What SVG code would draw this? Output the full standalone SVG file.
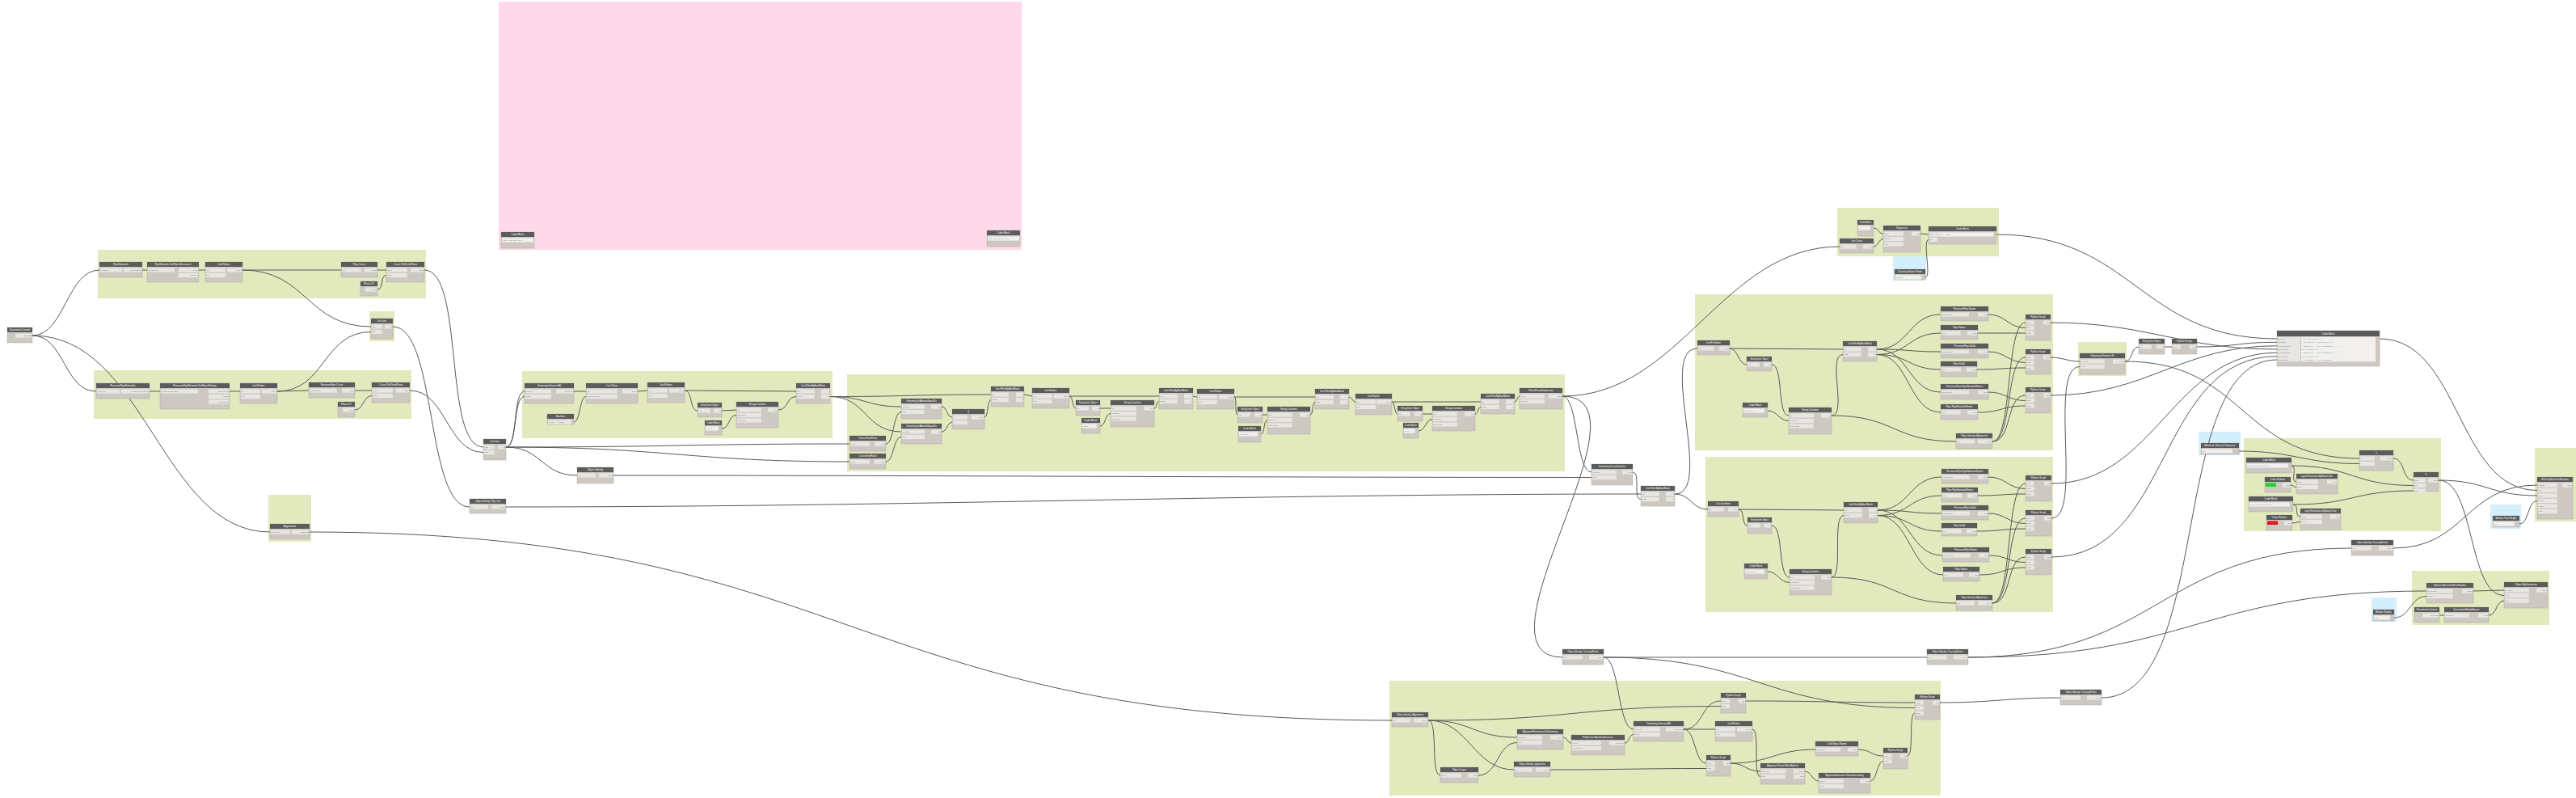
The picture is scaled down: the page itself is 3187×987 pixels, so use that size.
<svg xmlns="http://www.w3.org/2000/svg" width="3187" height="987" viewBox="0 0 3187 987">
<style>
.g{fill:#e1e9bd}.gb{fill:#d3effc}.gp{fill:#ffd9ea}
.nb{fill:#cdc8c1;stroke:#a7a199;stroke-width:.4}
.nh{fill:#5b5b5b}
.pr{fill:#e8e6e2}
.cb{fill:#f1f0ee}
text{font-family:"Liberation Sans",Arial,sans-serif}
.nt{font-size:3.1px;fill:#fff;text-anchor:middle}
.pi{font-size:2.2px;fill:#707070}
.po{font-size:2.2px;fill:#707070;text-anchor:end}
.cd{font-family:"Liberation Mono",monospace;font-size:2.2px;fill:#707070}
.w{fill:none;stroke:#595959;stroke-width:1}
</style>
<rect width="3187" height="987" fill="#ffffff"/>
<g id="groups">
<rect class="gp" x="617" y="2" width="647" height="307"/>
<rect class="g" x="121" y="309" width="406" height="60"/>
<rect class="g" x="116" y="458" width="393" height="60"/>
<rect class="g" x="457" y="385" width="31" height="37"/>
<rect class="g" x="332" y="612" width="53" height="58"/>
<rect class="g" x="646" y="459" width="384" height="83"/>
<rect class="g" x="1048" y="463" width="888" height="120"/>
<rect class="g" x="2097" y="364" width="443" height="193"/>
<rect class="g" x="2110" y="565" width="430" height="192"/>
<rect class="g" x="2273" y="257" width="200" height="60"/>
<rect class="g" x="2571" y="423" width="60" height="42"/>
<rect class="g" x="2776" y="542" width="244" height="115"/>
<rect class="g" x="3136" y="554" width="51" height="91"/>
<rect class="g" x="2984" y="706" width="170" height="67"/>
<rect class="g" x="1719" y="842" width="682" height="142"/>
<rect class="gb" x="2342" y="317" width="41" height="30"/>
<rect class="gb" x="2720" y="534" width="52" height="29"/>
<rect class="gb" x="3081" y="624" width="38" height="30"/>
<rect class="gb" x="2934" y="739" width="31" height="30"/>
</g>
<g id="connectors">
<path class="w" d="M40,415 C80,415 83,334 123,334"/>
<path class="w" d="M40,415 C80,415 79,484 119,484"/>
<path class="w" d="M40,415 C180,415 200,658 334,658"/>
<path class="w" d="M176,334 L182,334"/>
<path class="w" d="M246,334 L254,334"/>
<path class="w" d="M300,334 L422,334"/>
<path class="w" d="M467,334 L478,334"/>
<path class="w" d="M467,358 C475,358 470,340.5 478,340.5"/>
<path class="w" d="M300,334 C380,334 379,404 459,404"/>
<path class="w" d="M343,484 C403,484 399,410.5 459,410.5"/>
<path class="w" d="M525,334 C575,334 548,553 598,553"/>
<path class="w" d="M507,483 C552,483 553,559.5 598,559.5"/>
<path class="w" d="M486,404 C541,404 526,627 581,627"/>
<path class="w" d="M185,484 L198,484"/>
<path class="w" d="M284,484 L297,484"/>
<path class="w" d="M343,484 L382,483"/>
<path class="w" d="M439,483 L460,483"/>
<path class="w" d="M439,507 C450,507 449,489.5 460,489.5"/>
<path class="w" d="M626,553 C641,553 634,484 649,484"/>
<path class="w" d="M626,553 C641,553 634,490.5 649,490.5"/>
<path class="w" d="M626,553 C671,553 669,588 714,588"/>
<path class="w" d="M626,553 C826,553 851,549 1051,549"/>
<path class="w" d="M626,553 C826,553 851,571 1051,571"/>
<path class="w" d="M759,588 C1159,588 1569,590.5 1969,590.5"/>
<path class="w" d="M626,627 C1126,627 1530,611 2030,611"/>
<path class="w" d="M383,658 C1053,658 1052,891 1722,891"/>
<path class="w" d="M710,484 L725,484"/>
<path class="w" d="M710,522 C718,522 717,490.5 725,490.5"/>
<path class="w" d="M789,484 L801,483"/>
<path class="w" d="M847,483 C857,483 853,508 863,508"/>
<path class="w" d="M847,483 L985,484"/>
<path class="w" d="M893,508 L911,507"/>
<path class="w" d="M893,530 C903,530 901,513.5 911,513.5"/>
<path class="w" d="M963,507 C975,507 973,490.5 985,490.5"/>
<path class="w" d="M1027,490.5 C1072,490.5 1070,503 1115,503"/>
<path class="w" d="M1027,490.5 C1072,490.5 1070,534 1115,534"/>
<path class="w" d="M1027,490.5 C1127,490.5 1126,488 1226,488"/>
<path class="w" d="M1096,549 C1106,549 1105,509.5 1115,509.5"/>
<path class="w" d="M1096,571 C1106,571 1105,540.5 1115,540.5"/>
<path class="w" d="M1165,503 C1172,503 1171,516 1178,516"/>
<path class="w" d="M1165,534 C1172,534 1171,522.5 1178,522.5"/>
<path class="w" d="M1218,516 C1223,516 1221,494.5 1226,494.5"/>
<path class="w" d="M1267,488 L1277,490"/>
<path class="w" d="M1323,490 C1328,490 1326,505 1331,505"/>
<path class="w" d="M1323,490 L1434,490"/>
<path class="w" d="M1361,505 L1374,505"/>
<path class="w" d="M1361,527 C1368,527 1367,511.5 1374,511.5"/>
<path class="w" d="M1428,505 C1432,505 1430,496.5 1434,496.5"/>
<path class="w" d="M1476,490 L1481,491"/>
<path class="w" d="M1527,491 C1531,491 1527,513 1531,513"/>
<path class="w" d="M1527,491 L1627,491"/>
<path class="w" d="M1562,513 L1568,513"/>
<path class="w" d="M1560,537 C1565,537 1563,519.5 1568,519.5"/>
<path class="w" d="M1621,513 C1625,513 1623,497.5 1627,497.5"/>
<path class="w" d="M1669,491 C1673,491 1673,497 1677,497"/>
<path class="w" d="M1722,497 C1726,497 1725,512 1729,512"/>
<path class="w" d="M1722,497 L1832,497"/>
<path class="w" d="M1760,512 L1772,512"/>
<path class="w" d="M1755,533 C1763,533 1764,518.5 1772,518.5"/>
<path class="w" d="M1825,512 C1829,512 1828,503.5 1832,503.5"/>
<path class="w" d="M1874,497 C1877,497 1877,490 1880,490"/>
<path class="w" d="M1933,490 C1953,490 1949,584 1969,584"/>
<path class="w" d="M1933,490 C2080,490 2130,305 2276,305"/>
<path class="w" d="M1933,490 C2053,490 1813,813 1933,813"/>
<path class="w" d="M2020,584 C2030,584 2020,617.5 2030,617.5"/>
<path class="w" d="M2072,611 C2122,611 2050,431 2100,431"/>
<path class="w" d="M2072,611 C2092,611 2093,630 2113,630"/>
<path class="w" d="M2140,431 C2150,431 2151,451 2161,451"/>
<path class="w" d="M2140,431 L2280,432"/>
<path class="w" d="M2192,451 C2207,451 2198,514 2213,514"/>
<path class="w" d="M2187,508 C2199,508 2201,520.5 2213,520.5"/>
<path class="w" d="M2266,514 C2286,514 2260,438.5 2280,438.5"/>
<path class="w" d="M2266,514 C2346,514 2340,546 2420,546"/>
<path class="w" d="M2322,432 C2362,432 2361,389 2401,389"/>
<path class="w" d="M2322,438.5 C2362,438.5 2361,412 2401,412"/>
<path class="w" d="M2322,432 C2362,432 2361,435 2401,435"/>
<path class="w" d="M2322,438.5 C2362,438.5 2361,457 2401,457"/>
<path class="w" d="M2322,432 C2362,432 2361,485 2401,485"/>
<path class="w" d="M2322,438.5 C2362,438.5 2361,510 2401,510"/>
<path class="w" d="M2323,631 C2363,631 2362,590 2402,590"/>
<path class="w" d="M2323,637.5 C2363,637.5 2362,613 2402,613"/>
<path class="w" d="M2323,631 C2363,631 2362,635 2402,635"/>
<path class="w" d="M2323,637.5 C2363,637.5 2362,657 2402,657"/>
<path class="w" d="M2323,631 C2363,631 2363,687 2403,687"/>
<path class="w" d="M2323,637.5 C2363,637.5 2364,711 2404,711"/>
<path class="w" d="M2266,714 C2281,714 2266,637.5 2281,637.5"/>
<path class="w" d="M2266,714 C2346,714 2340,746 2420,746"/>
<path class="w" d="M2151,630 C2159,630 2154,650 2162,650"/>
<path class="w" d="M2151,630 L2281,631"/>
<path class="w" d="M2192,650 C2207,650 2199,714 2214,714"/>
<path class="w" d="M2187,707 C2199,707 2202,720.5 2214,720.5"/>
<path class="w" d="M2460,389 C2482,389 2484,405.5 2506,405.5"/>
<path class="w" d="M2447,412 L2506,412"/>
<path class="w" d="M2460,435 C2482,435 2484,448.5 2506,448.5"/>
<path class="w" d="M2446,457 C2476,457 2476,455 2506,455"/>
<path class="w" d="M2460,485 C2482,485 2484,495.5 2506,495.5"/>
<path class="w" d="M2447,510 C2477,510 2476,502 2506,502"/>
<path class="w" d="M2465,546 C2490,546 2481,399 2506,399"/>
<path class="w" d="M2465,546 C2490,546 2481,442 2506,442"/>
<path class="w" d="M2465,546 C2490,546 2481,489 2506,489"/>
<path class="w" d="M2460,590 C2482,590 2484,604.5 2506,604.5"/>
<path class="w" d="M2447,613 C2477,613 2476,611 2506,611"/>
<path class="w" d="M2460,635 C2482,635 2484,647.5 2506,647.5"/>
<path class="w" d="M2446,657 C2476,657 2476,654 2506,654"/>
<path class="w" d="M2461,687 C2483,687 2484,695.5 2506,695.5"/>
<path class="w" d="M2449,711 C2478,711 2477,702 2506,702"/>
<path class="w" d="M2465,746 C2490,746 2481,598 2506,598"/>
<path class="w" d="M2465,746 C2490,746 2481,641 2506,641"/>
<path class="w" d="M2465,746 C2490,746 2481,689 2506,689"/>
<path class="w" d="M2537,399 C2657,399 2697,432 2817,432"/>
<path class="w" d="M2537,442 C2552,442 2558,447 2573,447"/>
<path class="w" d="M2537,489 C2657,489 2697,427.7 2817,427.7"/>
<path class="w" d="M2538,598 C2668,598 2687,436.3 2817,436.3"/>
<path class="w" d="M2538,641 C2578,641 2533,453.5 2573,453.5"/>
<path class="w" d="M2538,689 C2688,689 2667,440.7 2817,440.7"/>
<path class="w" d="M2600,863 C2740,863 2680,445 2817,445"/>
<path class="w" d="M2629,447 C2639,447 2636,429 2646,429"/>
<path class="w" d="M2678,429 L2687,429"/>
<path class="w" d="M2718,429 C2768,429 2767,423.3 2817,423.3"/>
<path class="w" d="M2629,447 C2779,447 2769,567 2919,567"/>
<path class="w" d="M2770,558 C2840,558 2849,573.5 2919,573.5"/>
<path class="w" d="M2470,290 C2640,290 2647,419 2817,419"/>
<path class="w" d="M2944,419 C3044,419 3039,606.5 3139,606.5"/>
<path class="w" d="M3017,594 C3077,594 3079,613 3139,613"/>
<path class="w" d="M3017,594 C3062,594 3053,736.5 3098,736.5"/>
<path class="w" d="M2961,567 C2976,567 2971,594 2986,594"/>
<path class="w" d="M2835,576 C2843,576 2833,596 2841,596"/>
<path class="w" d="M2835,576 C2910,576 2911,600.5 2986,600.5"/>
<path class="w" d="M2834,600 C2838,600 2837,602.5 2841,602.5"/>
<path class="w" d="M2837,624 C2912,624 2911,607 2986,607"/>
<path class="w" d="M2837,624 C2845,624 2838,639 2846,639"/>
<path class="w" d="M2836,647 C2841,647 2841,645.5 2846,645.5"/>
<path class="w" d="M3117,648 C3129,648 3127,619.5 3139,619.5"/>
<path class="w" d="M2961,678 C3051,678 3049,600 3139,600"/>
<path class="w" d="M2435,813 C2675,813 2669,678 2909,678"/>
<path class="w" d="M2435,813 C2715,813 2722,731 3002,731"/>
<path class="w" d="M2962,764 C2982,764 2982,737.5 3002,737.5"/>
<path class="w" d="M3060,731 L3098,730"/>
<path class="w" d="M3018,761 L3024,761"/>
<path class="w" d="M3079,761 C3089,761 3088,743 3098,743"/>
<path class="w" d="M1984,813 L2384,813"/>
<path class="w" d="M1984,813 C2174,813 2179,875.5 2369,875.5"/>
<path class="w" d="M1984,813 C2004,813 2001,902 2021,902"/>
<path class="w" d="M1767,891 C1822,891 1822,912 1877,912"/>
<path class="w" d="M1767,891 C1780,891 1769,959 1782,959"/>
<path class="w" d="M1767,891 C1817,891 1823,952 1873,952"/>
<path class="w" d="M1767,891 C1947,891 1949,873.5 2129,873.5"/>
<path class="w" d="M1829,959 C1854,959 1852,918.5 1877,918.5"/>
<path class="w" d="M1934,912 C1939,912 1939,919 1944,919"/>
<path class="w" d="M2010,919 C2016,919 2015,908.5 2021,908.5"/>
<path class="w" d="M2083,902 L2122,902"/>
<path class="w" d="M2083,902 C2108,902 2104,867 2129,867"/>
<path class="w" d="M2083,902 C2098,902 2096,944 2111,944"/>
<path class="w" d="M1918,952 C2008,952 2021,950.5 2111,950.5"/>
<path class="w" d="M2168,902 C2178,902 2168,960.5 2178,960.5"/>
<path class="w" d="M2141,944 C2191,944 2196,927 2246,927"/>
<path class="w" d="M2141,944 C2159,944 2160,954 2178,954"/>
<path class="w" d="M2233,954 C2241,954 2242,966 2250,966"/>
<path class="w" d="M2299,927 C2314,927 2315,935 2330,935"/>
<path class="w" d="M2314,966 C2322,966 2322,941.5 2330,941.5"/>
<path class="w" d="M2360,935 C2368,935 2361,882 2369,882"/>
<path class="w" d="M2160,867 C2260,867 2269,869 2369,869"/>
<path class="w" d="M2400,869 C2470,869 2479,863 2549,863"/>
<path class="w" d="M2318,282 C2324,282 2324,289 2330,289"/>
<path class="w" d="M2318,305 C2324,305 2324,295.5 2330,295.5"/>
<path class="w" d="M2376,289 L2386,290"/>
<path class="w" d="M2382,343 C2390,343 2378,296.5 2386,296.5"/>
</g>
<g id="n124"><rect class="nb" x="620" y="287" width="41" height="20"/><rect class="nh" x="620" y="287" width="41" height="6"/><text class="nt" x="640.5" y="291.2">Code Block</text><rect class="cb" x="621" y="294.4" width="39" height="5.2"/><text class="cd" x="621.6" y="297.9">Your code goes here</text></g>
<g id="n125"><rect class="nb" x="1221" y="285" width="41" height="20"/><rect class="nh" x="1221" y="285" width="41" height="6"/><text class="nt" x="1241.5" y="289.2">Code Block</text><rect class="cb" x="1222" y="292.4" width="39" height="5.2"/><text class="cd" x="1222.6" y="295.9">Your code goes here</text></g>
<g id="n1"><rect class="nb" x="123" y="324" width="53" height="19"/><rect class="nh" x="123" y="324" width="53" height="6"/><text class="nt" x="149.5" y="328.2">PipeNetworks</text><rect class="pr" x="123.8" y="331.4" width="27" height="5.2"/><text class="pi" x="124.6" y="334.9">document</text><rect class="pr" x="153" y="331.4" width="22.2" height="5.2"/><text class="po" x="174.6" y="334.9">PipeNetwork[]</text></g>
<g id="n2"><rect class="nb" x="182" y="324" width="64" height="25"/><rect class="nh" x="182" y="324" width="64" height="6"/><text class="nt" x="214" y="328.2">PipeNetwork.GetPipesStructures</text><rect class="pr" x="182.8" y="331.4" width="33" height="5.2"/><text class="pi" x="183.6" y="334.9">pipeNetwork</text><rect class="pr" x="221" y="331.4" width="24.2" height="5.2"/><text class="po" x="244.6" y="334.9">Pipes</text><rect class="pr" x="221" y="337.9" width="24.2" height="5.2"/><text class="po" x="244.6" y="341.4">Structures</text></g>
<g id="n3"><rect class="nb" x="254" y="324" width="46" height="25"/><rect class="nh" x="254" y="324" width="46" height="6"/><text class="nt" x="277" y="328.2">List.Flatten</text><rect class="pr" x="254.8" y="331.4" width="24" height="5.2"/><text class="pi" x="255.6" y="334.9">list</text><rect class="pr" x="254.8" y="337.9" width="24" height="5.2"/><text class="pi" x="255.6" y="341.4">amt</text><rect class="pr" x="281" y="331.4" width="18.2" height="5.2"/><text class="po" x="299.4" y="334.9">var[]..[]</text></g>
<g id="n4"><rect class="nb" x="422" y="324" width="45" height="19"/><rect class="nh" x="422" y="324" width="45" height="6"/><text class="nt" x="444.5" y="328.2">Pipe.Curve</text><rect class="pr" x="422.8" y="331.4" width="24" height="5.2"/><text class="pi" x="423.6" y="334.9">pipe</text><rect class="pr" x="451" y="331.4" width="15.2" height="5.2"/><text class="po" x="466.4" y="334.9">Curve</text></g>
<g id="n5"><rect class="nb" x="478" y="324" width="47" height="25"/><rect class="nh" x="478" y="324" width="47" height="6"/><text class="nt" x="501.5" y="328.2">Curve.PullOntoPlane</text><rect class="pr" x="478.8" y="331.4" width="25" height="5.2"/><text class="pi" x="479.6" y="334.9">curve</text><rect class="pr" x="478.8" y="337.9" width="25" height="5.2"/><text class="pi" x="479.6" y="341.4">plane</text><rect class="pr" x="508" y="331.4" width="16.2" height="5.2"/><text class="po" x="524.4" y="334.9">Curve</text></g>
<g id="n6"><rect class="nb" x="446" y="348" width="21" height="18"/><rect class="nh" x="446" y="348" width="21" height="6"/><text class="nt" x="456.5" y="352.2">Plane.XY</text><rect class="pr" x="452" y="355.4" width="14.2" height="5.2"/><text class="po" x="466.4" y="358.9">Plane</text></g>
<g id="n7"><rect class="nb" x="9" y="405" width="31" height="19"/><rect class="nh" x="9" y="405" width="31" height="6"/><text class="nt" x="24.5" y="409.2">Document.Current</text><rect class="pr" x="19" y="412.4" width="20.2" height="5.2"/><text class="po" x="39.4" y="415.9">Document</text></g>
<g id="n8"><rect class="nb" x="459" y="394" width="27" height="25"/><rect class="nh" x="459" y="394" width="27" height="6"/><text class="nt" x="472.5" y="398.2">List.Join</text><rect class="pr" x="459.8" y="401.4" width="13" height="5.2"/><text class="pi" x="460.6" y="404.9">list0</text><rect class="pr" x="459.8" y="407.9" width="13" height="5.2"/><text class="pi" x="460.6" y="411.4">list1</text><rect class="pr" x="476" y="401.4" width="9.2" height="5.2"/><text class="po" x="485.4" y="404.9">list</text></g>
<g id="n9"><rect class="nb" x="119" y="474" width="66" height="19"/><rect class="nh" x="119" y="474" width="66" height="6"/><text class="nt" x="152" y="478.2">PressurePipeNetworks</text><rect class="pr" x="119.8" y="481.4" width="28" height="5.2"/><text class="pi" x="120.6" y="484.9">document</text><rect class="pr" x="150" y="481.4" width="34.2" height="5.2"/><text class="po" x="184.4" y="484.9">PressurePipeNetwork[]</text></g>
<g id="n10"><rect class="nb" x="198" y="474" width="86" height="32"/><rect class="nh" x="198" y="474" width="86" height="6"/><text class="nt" x="241" y="478.2">PressurePipeNetwork.GetPipesFittings</text><rect class="pr" x="198.8" y="481.4" width="46" height="5.2"/><text class="pi" x="199.6" y="484.9">pressurePipeNetwork</text><rect class="pr" x="258" y="481.4" width="25.2" height="5.2"/><text class="po" x="283.4" y="484.9">PressurePipes</text><rect class="pr" x="258" y="487.9" width="25.2" height="5.2"/><text class="po" x="283.4" y="491.4">Fittings</text><rect class="pr" x="258" y="494.4" width="25.2" height="5.2"/><text class="po" x="283.4" y="497.9">Appurtenances</text></g>
<g id="n11"><rect class="nb" x="297" y="474" width="46" height="25"/><rect class="nh" x="297" y="474" width="46" height="6"/><text class="nt" x="320" y="478.2">List.Flatten</text><rect class="pr" x="297.8" y="481.4" width="24" height="5.2"/><text class="pi" x="298.6" y="484.9">list</text><rect class="pr" x="297.8" y="487.9" width="24" height="5.2"/><text class="pi" x="298.6" y="491.4">amt</text><rect class="pr" x="324" y="481.4" width="18.2" height="5.2"/><text class="po" x="342.4" y="484.9">var[]..[]</text></g>
<g id="n12"><rect class="nb" x="382" y="473" width="57" height="19"/><rect class="nh" x="382" y="473" width="57" height="6"/><text class="nt" x="410.5" y="477.2">PressurePipe.Curve</text><rect class="pr" x="382.8" y="480.4" width="34" height="5.2"/><text class="pi" x="383.6" y="483.9">pressurePipe</text><rect class="pr" x="423" y="480.4" width="15.2" height="5.2"/><text class="po" x="438.4" y="483.9">Curve</text></g>
<g id="n13"><rect class="nb" x="460" y="473" width="47" height="25"/><rect class="nh" x="460" y="473" width="47" height="6"/><text class="nt" x="483.5" y="477.2">Curve.PullOntoPlane</text><rect class="pr" x="460.8" y="480.4" width="25" height="5.2"/><text class="pi" x="461.6" y="483.9">curve</text><rect class="pr" x="460.8" y="486.9" width="25" height="5.2"/><text class="pi" x="461.6" y="490.4">plane</text><rect class="pr" x="490" y="480.4" width="16.2" height="5.2"/><text class="po" x="506.4" y="483.9">Curve</text></g>
<g id="n14"><rect class="nb" x="418" y="497" width="21" height="19"/><rect class="nh" x="418" y="497" width="21" height="6"/><text class="nt" x="428.5" y="501.2">Plane.XY</text><rect class="pr" x="424" y="504.4" width="14.2" height="5.2"/><text class="po" x="438.4" y="507.9">Plane</text></g>
<g id="n15"><rect class="nb" x="598" y="543" width="28" height="26"/><rect class="nh" x="598" y="543" width="28" height="6"/><text class="nt" x="612" y="547.2">List.Join</text><rect class="pr" x="598.8" y="550.4" width="13" height="5.2"/><text class="pi" x="599.6" y="553.9">list0</text><rect class="pr" x="598.8" y="556.9" width="13" height="5.2"/><text class="pi" x="599.6" y="560.4">list1</text><rect class="pr" x="616" y="550.4" width="9.2" height="5.2"/><text class="po" x="625.4" y="553.9">list</text></g>
<g id="n16"><rect class="nb" x="714" y="578" width="45" height="20"/><rect class="nh" x="714" y="578" width="45" height="6"/><text class="nt" x="736.5" y="582.2">Object.Identity</text><rect class="pr" x="714.8" y="585.4" width="22" height="5.2"/><text class="pi" x="715.6" y="588.9">obj</text><rect class="pr" x="741" y="585.4" width="17.2" height="5.2"/><text class="po" x="758.4" y="588.9">var[]..[]</text></g>
<g id="n17"><rect class="nb" x="581" y="617" width="45" height="18"/><rect class="nh" x="581" y="617" width="45" height="6"/><text class="nt" x="603.5" y="621.2" style="font-size:2.9px">Object.Identity: Pipe List</text><rect class="pr" x="581.8" y="624.4" width="22" height="5.2"/><text class="pi" x="582.6" y="627.9">obj</text><rect class="pr" x="608" y="624.4" width="17.2" height="5.2"/><text class="po" x="625.4" y="627.9">var[]..[]</text></g>
<g id="n18"><rect class="nb" x="334" y="648" width="49" height="19"/><rect class="nh" x="334" y="648" width="49" height="6"/><text class="nt" x="358.5" y="652.2">Alignments</text><rect class="pr" x="334.8" y="655.4" width="24" height="5.2"/><text class="pi" x="335.6" y="658.9">document</text><rect class="pr" x="361" y="655.4" width="21.2" height="5.2"/><text class="po" x="382.4" y="658.9">Alignment[]</text></g>
<g id="n19"><rect class="nb" x="649" y="474" width="61" height="25"/><rect class="nh" x="649" y="474" width="61" height="6"/><text class="nt" x="679.5" y="478.2">Geometry.IntersectAll</text><rect class="pr" x="649.8" y="481.4" width="32" height="5.2"/><text class="pi" x="650.6" y="484.9">geometry</text><rect class="pr" x="649.8" y="487.9" width="32" height="5.2"/><text class="pi" x="650.6" y="491.4">others</text><rect class="pr" x="688" y="481.4" width="21.2" height="5.2"/><text class="po" x="709.4" y="484.9">Geometry[]</text></g>
<g id="n20"><rect class="nb" x="725" y="474" width="64" height="25"/><rect class="nh" x="725" y="474" width="64" height="6"/><text class="nt" x="757" y="478.2">List.Clean</text><rect class="pr" x="725.8" y="481.4" width="38" height="5.2"/><text class="pi" x="726.6" y="484.9">list</text><rect class="pr" x="725.8" y="487.9" width="38" height="5.2"/><text class="pi" x="726.6" y="491.4">preserveIndices</text><rect class="pr" x="770" y="481.4" width="18.2" height="5.2"/><text class="po" x="788.4" y="484.9">var[]..[]</text></g>
<g id="n21"><rect class="nb" x="677" y="512" width="33" height="13"/><rect class="nh" x="677" y="512" width="33" height="6"/><text class="nt" x="693.5" y="516.2">Boolean</text><rect class="pr" x="678" y="519.4" width="29" height="5.2"/><circle cx="680" cy="522" r="1" fill="#fff" stroke="#888" stroke-width=".3"/><text class="pi" x="681.6" y="522.9">True</text><circle cx="691" cy="522" r="1" fill="#fff" stroke="#888" stroke-width=".3"/><text class="pi" x="692.6" y="522.9">False</text></g>
<g id="n22"><rect class="nb" x="801" y="473" width="46" height="25"/><rect class="nh" x="801" y="473" width="46" height="6"/><text class="nt" x="824" y="477.2">List.Flatten</text><rect class="pr" x="801.8" y="480.4" width="24" height="5.2"/><text class="pi" x="802.6" y="483.9">list</text><rect class="pr" x="801.8" y="486.9" width="24" height="5.2"/><text class="pi" x="802.6" y="490.4">amt</text><rect class="pr" x="828" y="480.4" width="18.2" height="5.2"/><text class="po" x="846.4" y="483.9">var[]..[]</text></g>
<g id="n23"><rect class="nb" x="863" y="498" width="30" height="18"/><rect class="nh" x="863" y="498" width="30" height="6"/><text class="nt" x="878" y="502.2" style="font-size:2.8px">String from Object</text><rect class="pr" x="863.8" y="505.4" width="15" height="5.2"/><text class="pi" x="864.6" y="508.9">obj</text><rect class="pr" x="883" y="505.4" width="9.2" height="5.2"/><text class="po" x="892.4" y="508.9">str</text></g>
<g id="n24"><rect class="nb" x="872" y="520" width="21" height="18"/><rect class="nh" x="872" y="520" width="21" height="6"/><text class="nt" x="882.5" y="524.2">Code Block</text><rect class="cb" x="872.8" y="527.4" width="16" height="5.2"/><text class="cd" x="873.4" y="530.9">"Line";</text></g>
<g id="n25"><rect class="nb" x="911" y="497" width="52" height="32"/><rect class="nh" x="911" y="497" width="52" height="6"/><text class="nt" x="937" y="501.2">String.Contains</text><rect class="pr" x="911.8" y="504.4" width="30" height="5.2"/><text class="pi" x="912.6" y="507.9">str</text><rect class="pr" x="911.8" y="510.9" width="30" height="5.2"/><text class="pi" x="912.6" y="514.4">searchFor</text><rect class="pr" x="911.8" y="517.4" width="30" height="5.2"/><text class="pi" x="912.6" y="520.9">ignoreCase</text><rect class="pr" x="950" y="504.4" width="12.2" height="5.2"/><text class="po" x="962.4" y="507.9">bool</text></g>
<g id="n26"><rect class="nb" x="985" y="474" width="42" height="25"/><rect class="nh" x="985" y="474" width="42" height="6"/><text class="nt" x="1006" y="478.2">List.FilterByBoolMask</text><rect class="pr" x="985.8" y="481.4" width="22" height="5.2"/><text class="pi" x="986.6" y="484.9">list</text><rect class="pr" x="985.8" y="487.9" width="22" height="5.2"/><text class="pi" x="986.6" y="491.4">mask</text><rect class="pr" x="1016" y="481.4" width="10.2" height="5.2"/><text class="po" x="1026.4" y="484.9">in</text><rect class="pr" x="1016" y="487.9" width="10.2" height="5.2"/><text class="po" x="1026.4" y="491.4">out</text></g>
<g id="n27"><rect class="nb" x="1115" y="493" width="50" height="25"/><rect class="nh" x="1115" y="493" width="50" height="6"/><text class="nt" x="1140" y="497.2">Geometry.IsAlmostEqualTo</text><rect class="pr" x="1115.8" y="500.4" width="28" height="5.2"/><text class="pi" x="1116.6" y="503.9">geometry</text><rect class="pr" x="1115.8" y="506.9" width="28" height="5.2"/><text class="pi" x="1116.6" y="510.4">other</text><rect class="pr" x="1152" y="500.4" width="12.2" height="5.2"/><text class="po" x="1164.4" y="503.9">bool</text></g>
<g id="n28"><rect class="nb" x="1115" y="524" width="50" height="25"/><rect class="nh" x="1115" y="524" width="50" height="6"/><text class="nt" x="1140" y="528.2">Geometry.IsAlmostEqualTo</text><rect class="pr" x="1115.8" y="531.4" width="28" height="5.2"/><text class="pi" x="1116.6" y="534.9">geometry</text><rect class="pr" x="1115.8" y="537.9" width="28" height="5.2"/><text class="pi" x="1116.6" y="541.4">other</text><rect class="pr" x="1152" y="531.4" width="12.2" height="5.2"/><text class="po" x="1164.4" y="534.9">bool</text></g>
<g id="n29"><rect class="nb" x="1051" y="539" width="45" height="19"/><rect class="nh" x="1051" y="539" width="45" height="6"/><text class="nt" x="1073.5" y="543.2">Curve.StartPoint</text><rect class="pr" x="1051.8" y="546.4" width="24" height="5.2"/><text class="pi" x="1052.6" y="549.9">curve</text><rect class="pr" x="1082" y="546.4" width="13.2" height="5.2"/><text class="po" x="1095.4" y="549.9">Point</text></g>
<g id="n30"><rect class="nb" x="1051" y="561" width="45" height="19"/><rect class="nh" x="1051" y="561" width="45" height="6"/><text class="nt" x="1073.5" y="565.2">Curve.EndPoint</text><rect class="pr" x="1051.8" y="568.4" width="24" height="5.2"/><text class="pi" x="1052.6" y="571.9">curve</text><rect class="pr" x="1082" y="568.4" width="13.2" height="5.2"/><text class="po" x="1095.4" y="571.9">Point</text></g>
<g id="n31"><rect class="nb" x="1178" y="506" width="40" height="25"/><rect class="nh" x="1178" y="506" width="40" height="6"/><text class="nt" x="1198" y="510.2">||</text><rect class="pr" x="1178.8" y="513.4" width="18" height="5.2"/><text class="pi" x="1179.6" y="516.9">x</text><rect class="pr" x="1178.8" y="519.9" width="18" height="5.2"/><text class="pi" x="1179.6" y="523.4">y</text><rect class="pr" x="1202" y="513.4" width="15.2" height="5.2"/><text class="po" x="1217.4" y="516.9">var[]..[]</text></g>
<g id="n32"><rect class="nb" x="1226" y="478" width="41" height="25"/><rect class="nh" x="1226" y="478" width="41" height="6"/><text class="nt" x="1246.5" y="482.2">List.FilterByBoolMask</text><rect class="pr" x="1226.8" y="485.4" width="21" height="5.2"/><text class="pi" x="1227.6" y="488.9">list</text><rect class="pr" x="1226.8" y="491.9" width="21" height="5.2"/><text class="pi" x="1227.6" y="495.4">mask</text><rect class="pr" x="1257" y="485.4" width="9.2" height="5.2"/><text class="po" x="1266.4" y="488.9">in</text><rect class="pr" x="1257" y="491.9" width="9.2" height="5.2"/><text class="po" x="1266.4" y="495.4">out</text></g>
<g id="n33"><rect class="nb" x="1277" y="480" width="46" height="25"/><rect class="nh" x="1277" y="480" width="46" height="6"/><text class="nt" x="1300" y="484.2">List.Flatten</text><rect class="pr" x="1277.8" y="487.4" width="24" height="5.2"/><text class="pi" x="1278.6" y="490.9">list</text><rect class="pr" x="1277.8" y="493.9" width="24" height="5.2"/><text class="pi" x="1278.6" y="497.4">amt</text><rect class="pr" x="1304" y="487.4" width="18.2" height="5.2"/><text class="po" x="1322.4" y="490.9">var[]..[]</text></g>
<g id="n34"><rect class="nb" x="1331" y="495" width="30" height="19"/><rect class="nh" x="1331" y="495" width="30" height="6"/><text class="nt" x="1346" y="499.2" style="font-size:2.8px">String from Object</text><rect class="pr" x="1331.8" y="502.4" width="15" height="5.2"/><text class="pi" x="1332.6" y="505.9">obj</text><rect class="pr" x="1351" y="502.4" width="9.2" height="5.2"/><text class="po" x="1360.4" y="505.9">str</text></g>
<g id="n35"><rect class="nb" x="1338" y="517" width="23" height="19"/><rect class="nh" x="1338" y="517" width="23" height="6"/><text class="nt" x="1349.5" y="521.2">Code Block</text><rect class="cb" x="1338.8" y="524.4" width="18" height="5.2"/><text class="cd" x="1339.4" y="527.9">"Name";</text></g>
<g id="n36"><rect class="nb" x="1374" y="495" width="54" height="33"/><rect class="nh" x="1374" y="495" width="54" height="6"/><text class="nt" x="1401" y="499.2">String.Contains</text><rect class="pr" x="1374.8" y="502.4" width="31" height="5.2"/><text class="pi" x="1375.6" y="505.9">str</text><rect class="pr" x="1374.8" y="508.9" width="31" height="5.2"/><text class="pi" x="1375.6" y="512.4">searchFor</text><rect class="pr" x="1374.8" y="515.4" width="31" height="5.2"/><text class="pi" x="1375.6" y="518.9">ignoreCase</text><rect class="pr" x="1415" y="502.4" width="12.2" height="5.2"/><text class="po" x="1427.4" y="505.9">bool</text></g>
<g id="n37"><rect class="nb" x="1434" y="480" width="42" height="26"/><rect class="nh" x="1434" y="480" width="42" height="6"/><text class="nt" x="1455" y="484.2">List.FilterByBoolMask</text><rect class="pr" x="1434.8" y="487.4" width="22" height="5.2"/><text class="pi" x="1435.6" y="490.9">list</text><rect class="pr" x="1434.8" y="493.9" width="22" height="5.2"/><text class="pi" x="1435.6" y="497.4">mask</text><rect class="pr" x="1465" y="487.4" width="10.2" height="5.2"/><text class="po" x="1475.4" y="490.9">in</text><rect class="pr" x="1465" y="493.9" width="10.2" height="5.2"/><text class="po" x="1475.4" y="497.4">out</text></g>
<g id="n38"><rect class="nb" x="1481" y="481" width="46" height="25"/><rect class="nh" x="1481" y="481" width="46" height="6"/><text class="nt" x="1504" y="485.2">List.Flatten</text><rect class="pr" x="1481.8" y="488.4" width="24" height="5.2"/><text class="pi" x="1482.6" y="491.9">list</text><rect class="pr" x="1481.8" y="494.9" width="24" height="5.2"/><text class="pi" x="1482.6" y="498.4">amt</text><rect class="pr" x="1508" y="488.4" width="18.2" height="5.2"/><text class="po" x="1526.4" y="491.9">var[]..[]</text></g>
<g id="n39"><rect class="nb" x="1531" y="503" width="31" height="20"/><rect class="nh" x="1531" y="503" width="31" height="6"/><text class="nt" x="1546.5" y="507.2" style="font-size:2.8px">String from Object</text><rect class="pr" x="1531.8" y="510.4" width="15" height="5.2"/><text class="pi" x="1532.6" y="513.9">obj</text><rect class="pr" x="1552" y="510.4" width="9.2" height="5.2"/><text class="po" x="1561.4" y="513.9">str</text></g>
<g id="n40"><rect class="nb" x="1532" y="527" width="28" height="20"/><rect class="nh" x="1532" y="527" width="28" height="6"/><text class="nt" x="1546" y="531.2">Code Block</text><rect class="cb" x="1532.8" y="534.4" width="23" height="5.2"/><text class="cd" x="1533.4" y="537.9">"Fitting";</text></g>
<g id="n41"><rect class="nb" x="1568" y="503" width="53" height="34"/><rect class="nh" x="1568" y="503" width="53" height="6"/><text class="nt" x="1594.5" y="507.2">String.Contains</text><rect class="pr" x="1568.8" y="510.4" width="30" height="5.2"/><text class="pi" x="1569.6" y="513.9">str</text><rect class="pr" x="1568.8" y="516.9" width="30" height="5.2"/><text class="pi" x="1569.6" y="520.4">searchFor</text><rect class="pr" x="1568.8" y="523.4" width="30" height="5.2"/><text class="pi" x="1569.6" y="526.9">ignoreCase</text><rect class="pr" x="1608" y="510.4" width="12.2" height="5.2"/><text class="po" x="1620.4" y="513.9">bool</text></g>
<g id="n42"><rect class="nb" x="1627" y="481" width="42" height="25"/><rect class="nh" x="1627" y="481" width="42" height="6"/><text class="nt" x="1648" y="485.2">List.FilterByBoolMask</text><rect class="pr" x="1627.8" y="488.4" width="22" height="5.2"/><text class="pi" x="1628.6" y="491.9">list</text><rect class="pr" x="1627.8" y="494.9" width="22" height="5.2"/><text class="pi" x="1628.6" y="498.4">mask</text><rect class="pr" x="1658" y="488.4" width="10.2" height="5.2"/><text class="po" x="1668.4" y="491.9">in</text><rect class="pr" x="1658" y="494.9" width="10.2" height="5.2"/><text class="po" x="1668.4" y="498.4">out</text></g>
<g id="n43"><rect class="nb" x="1677" y="487" width="45" height="26"/><rect class="nh" x="1677" y="487" width="45" height="6"/><text class="nt" x="1699.5" y="491.2">List.Flatten</text><rect class="pr" x="1677.8" y="494.4" width="24" height="5.2"/><text class="pi" x="1678.6" y="497.9">list</text><rect class="pr" x="1677.8" y="500.9" width="24" height="5.2"/><text class="pi" x="1678.6" y="504.4">amt</text><rect class="pr" x="1703" y="494.4" width="18.2" height="5.2"/><text class="po" x="1721.4" y="497.9">var[]..[]</text></g>
<g id="n44"><rect class="nb" x="1729" y="502" width="31" height="19"/><rect class="nh" x="1729" y="502" width="31" height="6"/><text class="nt" x="1744.5" y="506.2" style="font-size:2.8px">String from Object</text><rect class="pr" x="1729.8" y="509.4" width="15" height="5.2"/><text class="pi" x="1730.6" y="512.9">obj</text><rect class="pr" x="1750" y="509.4" width="9.2" height="5.2"/><text class="po" x="1759.4" y="512.9">str</text></g>
<g id="n45"><rect class="nb" x="1736" y="523" width="19" height="19"/><rect class="nh" x="1736" y="523" width="19" height="6"/><text class="nt" x="1745.5" y="527.2" style="font-size:2.8px">Code Block</text><rect class="cb" x="1736.8" y="530.4" width="14" height="5.2"/><text class="cd" x="1737.4" y="533.9">"Arc";</text></g>
<g id="n46"><rect class="nb" x="1772" y="502" width="53" height="31"/><rect class="nh" x="1772" y="502" width="53" height="6"/><text class="nt" x="1798.5" y="506.2">String.Contains</text><rect class="pr" x="1772.8" y="509.4" width="30" height="5.2"/><text class="pi" x="1773.6" y="512.9">str</text><rect class="pr" x="1772.8" y="515.9" width="30" height="5.2"/><text class="pi" x="1773.6" y="519.4">searchFor</text><rect class="pr" x="1772.8" y="522.4" width="30" height="5.2"/><text class="pi" x="1773.6" y="525.9">ignoreCase</text><rect class="pr" x="1812" y="509.4" width="12.2" height="5.2"/><text class="po" x="1824.4" y="512.9">bool</text></g>
<g id="n47"><rect class="nb" x="1832" y="487" width="42" height="25"/><rect class="nh" x="1832" y="487" width="42" height="6"/><text class="nt" x="1853" y="491.2">List.FilterByBoolMask</text><rect class="pr" x="1832.8" y="494.4" width="22" height="5.2"/><text class="pi" x="1833.6" y="497.9">list</text><rect class="pr" x="1832.8" y="500.9" width="22" height="5.2"/><text class="pi" x="1833.6" y="504.4">mask</text><rect class="pr" x="1863" y="494.4" width="10.2" height="5.2"/><text class="po" x="1873.4" y="497.9">in</text><rect class="pr" x="1863" y="500.9" width="10.2" height="5.2"/><text class="po" x="1873.4" y="504.4">out</text></g>
<g id="n48"><rect class="nb" x="1880" y="480" width="53" height="26"/><rect class="nh" x="1880" y="480" width="53" height="6"/><text class="nt" x="1906.5" y="484.2">Point.PruneDuplicates</text><rect class="pr" x="1880.8" y="487.4" width="30" height="5.2"/><text class="pi" x="1881.6" y="490.9">points</text><rect class="pr" x="1880.8" y="493.9" width="30" height="5.2"/><text class="pi" x="1881.6" y="497.4">tolerance</text><rect class="pr" x="1916" y="487.4" width="16.2" height="5.2"/><text class="po" x="1932.4" y="490.9">Point[]</text></g>
<g id="n49"><rect class="nb" x="1969" y="574" width="51" height="26"/><rect class="nh" x="1969" y="574" width="51" height="6"/><text class="nt" x="1994.5" y="578.2">Geometry.DoesIntersect</text><rect class="pr" x="1969.8" y="581.4" width="30" height="5.2"/><text class="pi" x="1970.6" y="584.9">geometry</text><rect class="pr" x="1969.8" y="587.9" width="30" height="5.2"/><text class="pi" x="1970.6" y="591.4">other</text><rect class="pr" x="2007" y="581.4" width="12.2" height="5.2"/><text class="po" x="2019.4" y="584.9">bool</text></g>
<g id="n50"><rect class="nb" x="2030" y="601" width="42" height="25"/><rect class="nh" x="2030" y="601" width="42" height="6"/><text class="nt" x="2051" y="605.2">List.FilterByBoolMask</text><rect class="pr" x="2030.8" y="608.4" width="22" height="5.2"/><text class="pi" x="2031.6" y="611.9">list</text><rect class="pr" x="2030.8" y="614.9" width="22" height="5.2"/><text class="pi" x="2031.6" y="618.4">mask</text><rect class="pr" x="2061" y="608.4" width="10.2" height="5.2"/><text class="po" x="2071.4" y="611.9">in</text><rect class="pr" x="2061" y="614.9" width="10.2" height="5.2"/><text class="po" x="2071.4" y="618.4">out</text></g>
<g id="n51"><rect class="nb" x="2100" y="421" width="40" height="18"/><rect class="nh" x="2100" y="421" width="40" height="6"/><text class="nt" x="2120" y="425.2">List.FirstItem</text><rect class="pr" x="2100.8" y="428.4" width="20" height="5.2"/><text class="pi" x="2101.6" y="431.9">list</text><rect class="pr" x="2127" y="428.4" width="12.2" height="5.2"/><text class="po" x="2139.4" y="431.9">item</text></g>
<g id="n52"><rect class="nb" x="2161" y="441" width="31" height="18"/><rect class="nh" x="2161" y="441" width="31" height="6"/><text class="nt" x="2176.5" y="445.2" style="font-size:2.8px">String from Object</text><rect class="pr" x="2161.8" y="448.4" width="15" height="5.2"/><text class="pi" x="2162.6" y="451.9">obj</text><rect class="pr" x="2182" y="448.4" width="9.2" height="5.2"/><text class="po" x="2191.4" y="451.9">str</text></g>
<g id="n53"><rect class="nb" x="2156" y="498" width="31" height="18"/><rect class="nh" x="2156" y="498" width="31" height="6"/><text class="nt" x="2171.5" y="502.2">Code Block</text><rect class="cb" x="2156.8" y="505.4" width="26" height="5.2"/><text class="cd" x="2157.4" y="508.9">"Pressure";</text></g>
<g id="n54"><rect class="nb" x="2213" y="504" width="53" height="33"/><rect class="nh" x="2213" y="504" width="53" height="6"/><text class="nt" x="2239.5" y="508.2">String.Contains</text><rect class="pr" x="2213.8" y="511.4" width="30" height="5.2"/><text class="pi" x="2214.6" y="514.9">str</text><rect class="pr" x="2213.8" y="517.9" width="30" height="5.2"/><text class="pi" x="2214.6" y="521.4">searchFor</text><rect class="pr" x="2213.8" y="524.4" width="30" height="5.2"/><text class="pi" x="2214.6" y="527.9">ignoreCase</text><rect class="pr" x="2253" y="511.4" width="12.2" height="5.2"/><text class="po" x="2265.4" y="514.9">bool</text></g>
<g id="n55"><rect class="nb" x="2280" y="422" width="42" height="25"/><rect class="nh" x="2280" y="422" width="42" height="6"/><text class="nt" x="2301" y="426.2">List.FilterByBoolMask</text><rect class="pr" x="2280.8" y="429.4" width="22" height="5.2"/><text class="pi" x="2281.6" y="432.9">list</text><rect class="pr" x="2280.8" y="435.9" width="22" height="5.2"/><text class="pi" x="2281.6" y="439.4">mask</text><rect class="pr" x="2311" y="429.4" width="10.2" height="5.2"/><text class="po" x="2321.4" y="432.9">in</text><rect class="pr" x="2311" y="435.9" width="10.2" height="5.2"/><text class="po" x="2321.4" y="439.4">out</text></g>
<g id="n56"><rect class="nb" x="2401" y="379" width="59" height="18"/><rect class="nh" x="2401" y="379" width="59" height="6"/><text class="nt" x="2430.5" y="383.2">PressurePipe.Name</text><rect class="pr" x="2401.8" y="386.4" width="34" height="5.2"/><text class="pi" x="2402.6" y="389.9">pressurePipe</text><rect class="pr" x="2447" y="386.4" width="12.2" height="5.2"/><text class="po" x="2459.4" y="389.9">string</text></g>
<g id="n57"><rect class="nb" x="2401" y="402" width="46" height="18"/><rect class="nh" x="2401" y="402" width="46" height="6"/><text class="nt" x="2424" y="406.2">Pipe.Name</text><rect class="pr" x="2401.8" y="409.4" width="24" height="5.2"/><text class="pi" x="2402.6" y="412.9">pipe</text><rect class="pr" x="2434" y="409.4" width="12.2" height="5.2"/><text class="po" x="2446.4" y="412.9">string</text></g>
<g id="n58"><rect class="nb" x="2401" y="425" width="59" height="18"/><rect class="nh" x="2401" y="425" width="59" height="6"/><text class="nt" x="2430.5" y="429.2">PressurePipe.Solid</text><rect class="pr" x="2401.8" y="432.4" width="34" height="5.2"/><text class="pi" x="2402.6" y="435.9">pressurePipe</text><rect class="pr" x="2447" y="432.4" width="12.2" height="5.2"/><text class="po" x="2459.4" y="435.9">Solid</text></g>
<g id="n59"><rect class="nb" x="2401" y="447" width="45" height="19"/><rect class="nh" x="2401" y="447" width="45" height="6"/><text class="nt" x="2423.5" y="451.2">Pipe.Solid</text><rect class="pr" x="2401.8" y="454.4" width="24" height="5.2"/><text class="pi" x="2402.6" y="457.9">pipe</text><rect class="pr" x="2433" y="454.4" width="12.2" height="5.2"/><text class="po" x="2445.4" y="457.9">Solid</text></g>
<g id="n60"><rect class="nb" x="2401" y="475" width="59" height="19"/><rect class="nh" x="2401" y="475" width="59" height="6"/><text class="nt" x="2430.5" y="479.2">PressurePipe.PipeNetworkName</text><rect class="pr" x="2401.8" y="482.4" width="34" height="5.2"/><text class="pi" x="2402.6" y="485.9">pressurePipe</text><rect class="pr" x="2447" y="482.4" width="12.2" height="5.2"/><text class="po" x="2459.4" y="485.9">string</text></g>
<g id="n61"><rect class="nb" x="2401" y="500" width="46" height="19"/><rect class="nh" x="2401" y="500" width="46" height="6"/><text class="nt" x="2424" y="504.2">Pipe.PipeNetworkName</text><rect class="pr" x="2401.8" y="507.4" width="24" height="5.2"/><text class="pi" x="2402.6" y="510.9">pipe</text><rect class="pr" x="2434" y="507.4" width="12.2" height="5.2"/><text class="po" x="2446.4" y="510.9">string</text></g>
<g id="n62"><rect class="nb" x="2420" y="536" width="45" height="19"/><rect class="nh" x="2420" y="536" width="45" height="6"/><text class="nt" x="2442.5" y="540.2" style="font-size:2.8px">Object.Identity: Alignments</text><rect class="pr" x="2420.8" y="543.4" width="22" height="5.2"/><text class="pi" x="2421.6" y="546.9">obj</text><rect class="pr" x="2447" y="543.4" width="17.2" height="5.2"/><text class="po" x="2464.4" y="546.9">var[]..[]</text></g>
<g id="n63"><rect class="nb" x="2506" y="389" width="31" height="32"/><rect class="nh" x="2506" y="389" width="31" height="6"/><text class="nt" x="2521.5" y="393.2">Python Script</text><rect class="pr" x="2506.8" y="396.4" width="10" height="5.2"/><text class="pi" x="2507.6" y="399.9">IN[0]</text><rect class="pr" x="2506.8" y="402.9" width="10" height="5.2"/><text class="pi" x="2507.6" y="406.4">IN[1]</text><rect class="pr" x="2506.8" y="409.4" width="10" height="5.2"/><text class="pi" x="2507.6" y="412.9">IN[2]</text><rect class="pr" x="2528" y="396.4" width="8.2" height="5.2"/><text class="po" x="2536.4" y="399.9">OUT</text></g>
<g id="n64"><rect class="nb" x="2506" y="432" width="31" height="31"/><rect class="nh" x="2506" y="432" width="31" height="6"/><text class="nt" x="2521.5" y="436.2">Python Script</text><rect class="pr" x="2506.8" y="439.4" width="10" height="5.2"/><text class="pi" x="2507.6" y="442.9">IN[0]</text><rect class="pr" x="2506.8" y="445.9" width="10" height="5.2"/><text class="pi" x="2507.6" y="449.4">IN[1]</text><rect class="pr" x="2506.8" y="452.4" width="10" height="5.2"/><text class="pi" x="2507.6" y="455.9">IN[2]</text><rect class="pr" x="2528" y="439.4" width="8.2" height="5.2"/><text class="po" x="2536.4" y="442.9">OUT</text></g>
<g id="n65"><rect class="nb" x="2506" y="479" width="31" height="32"/><rect class="nh" x="2506" y="479" width="31" height="6"/><text class="nt" x="2521.5" y="483.2">Python Script</text><rect class="pr" x="2506.8" y="486.4" width="10" height="5.2"/><text class="pi" x="2507.6" y="489.9">IN[0]</text><rect class="pr" x="2506.8" y="492.9" width="10" height="5.2"/><text class="pi" x="2507.6" y="496.4">IN[1]</text><rect class="pr" x="2506.8" y="499.4" width="10" height="5.2"/><text class="pi" x="2507.6" y="502.9">IN[2]</text><rect class="pr" x="2528" y="486.4" width="8.2" height="5.2"/><text class="po" x="2536.4" y="489.9">OUT</text></g>
<g id="n66"><rect class="nb" x="2113" y="620" width="38" height="19"/><rect class="nh" x="2113" y="620" width="38" height="6"/><text class="nt" x="2132" y="624.2">List.LastItem</text><rect class="pr" x="2113.8" y="627.4" width="19" height="5.2"/><text class="pi" x="2114.6" y="630.9">list</text><rect class="pr" x="2138" y="627.4" width="12.2" height="5.2"/><text class="po" x="2150.4" y="630.9">item</text></g>
<g id="n67"><rect class="nb" x="2162" y="640" width="30" height="20"/><rect class="nh" x="2162" y="640" width="30" height="6"/><text class="nt" x="2177" y="644.2" style="font-size:2.8px">String from Object</text><rect class="pr" x="2162.8" y="647.4" width="15" height="5.2"/><text class="pi" x="2163.6" y="650.9">obj</text><rect class="pr" x="2182" y="647.4" width="9.2" height="5.2"/><text class="po" x="2191.4" y="650.9">str</text></g>
<g id="n68"><rect class="nb" x="2281" y="621" width="42" height="26"/><rect class="nh" x="2281" y="621" width="42" height="6"/><text class="nt" x="2302" y="625.2">List.FilterByBoolMask</text><rect class="pr" x="2281.8" y="628.4" width="22" height="5.2"/><text class="pi" x="2282.6" y="631.9">list</text><rect class="pr" x="2281.8" y="634.9" width="22" height="5.2"/><text class="pi" x="2282.6" y="638.4">mask</text><rect class="pr" x="2312" y="628.4" width="10.2" height="5.2"/><text class="po" x="2322.4" y="631.9">in</text><rect class="pr" x="2312" y="634.9" width="10.2" height="5.2"/><text class="po" x="2322.4" y="638.4">out</text></g>
<g id="n69"><rect class="nb" x="2158" y="697" width="29" height="19"/><rect class="nh" x="2158" y="697" width="29" height="6"/><text class="nt" x="2172.5" y="701.2">Code Block</text><rect class="cb" x="2158.8" y="704.4" width="24" height="5.2"/><text class="cd" x="2159.4" y="707.9">"Pressure";</text></g>
<g id="n70"><rect class="nb" x="2214" y="704" width="52" height="32"/><rect class="nh" x="2214" y="704" width="52" height="6"/><text class="nt" x="2240" y="708.2">String.Contains</text><rect class="pr" x="2214.8" y="711.4" width="30" height="5.2"/><text class="pi" x="2215.6" y="714.9">str</text><rect class="pr" x="2214.8" y="717.9" width="30" height="5.2"/><text class="pi" x="2215.6" y="721.4">searchFor</text><rect class="pr" x="2214.8" y="724.4" width="30" height="5.2"/><text class="pi" x="2215.6" y="727.9">ignoreCase</text><rect class="pr" x="2253" y="711.4" width="12.2" height="5.2"/><text class="po" x="2265.4" y="714.9">bool</text></g>
<g id="n71"><rect class="nb" x="2402" y="580" width="58" height="18"/><rect class="nh" x="2402" y="580" width="58" height="6"/><text class="nt" x="2431" y="584.2">PressurePipe.PipeNetworkName</text><rect class="pr" x="2402.8" y="587.4" width="34" height="5.2"/><text class="pi" x="2403.6" y="590.9">pressurePipe</text><rect class="pr" x="2447" y="587.4" width="12.2" height="5.2"/><text class="po" x="2459.4" y="590.9">string</text></g>
<g id="n72"><rect class="nb" x="2402" y="603" width="45" height="18"/><rect class="nh" x="2402" y="603" width="45" height="6"/><text class="nt" x="2424.5" y="607.2">Pipe.PipeNetworkName</text><rect class="pr" x="2402.8" y="610.4" width="24" height="5.2"/><text class="pi" x="2403.6" y="613.9">pipe</text><rect class="pr" x="2434" y="610.4" width="12.2" height="5.2"/><text class="po" x="2446.4" y="613.9">string</text></g>
<g id="n73"><rect class="nb" x="2402" y="625" width="58" height="18"/><rect class="nh" x="2402" y="625" width="58" height="6"/><text class="nt" x="2431" y="629.2">PressurePipe.Solid</text><rect class="pr" x="2402.8" y="632.4" width="34" height="5.2"/><text class="pi" x="2403.6" y="635.9">pressurePipe</text><rect class="pr" x="2447" y="632.4" width="12.2" height="5.2"/><text class="po" x="2459.4" y="635.9">Solid</text></g>
<g id="n74"><rect class="nb" x="2402" y="647" width="44" height="16"/><rect class="nh" x="2402" y="647" width="44" height="6"/><text class="nt" x="2424" y="651.2">Pipe.Solid</text><rect class="pr" x="2402.8" y="654.4" width="24" height="5.2"/><text class="pi" x="2403.6" y="657.9">pipe</text><rect class="pr" x="2433" y="654.4" width="12.2" height="5.2"/><text class="po" x="2445.4" y="657.9">Solid</text></g>
<g id="n75"><rect class="nb" x="2403" y="677" width="58" height="18"/><rect class="nh" x="2403" y="677" width="58" height="6"/><text class="nt" x="2432" y="681.2">PressurePipe.Name</text><rect class="pr" x="2403.8" y="684.4" width="34" height="5.2"/><text class="pi" x="2404.6" y="687.9">pressurePipe</text><rect class="pr" x="2448" y="684.4" width="12.2" height="5.2"/><text class="po" x="2460.4" y="687.9">string</text></g>
<g id="n76"><rect class="nb" x="2404" y="701" width="45" height="18"/><rect class="nh" x="2404" y="701" width="45" height="6"/><text class="nt" x="2426.5" y="705.2">Pipe.Name</text><rect class="pr" x="2404.8" y="708.4" width="24" height="5.2"/><text class="pi" x="2405.6" y="711.9">pipe</text><rect class="pr" x="2436" y="708.4" width="12.2" height="5.2"/><text class="po" x="2448.4" y="711.9">string</text></g>
<g id="n77"><rect class="nb" x="2420" y="736" width="45" height="19"/><rect class="nh" x="2420" y="736" width="45" height="6"/><text class="nt" x="2442.5" y="740.2" style="font-size:2.8px">Object.Identity: Alignments</text><rect class="pr" x="2420.8" y="743.4" width="22" height="5.2"/><text class="pi" x="2421.6" y="746.9">obj</text><rect class="pr" x="2447" y="743.4" width="17.2" height="5.2"/><text class="po" x="2464.4" y="746.9">var[]..[]</text></g>
<g id="n78"><rect class="nb" x="2506" y="588" width="32" height="32"/><rect class="nh" x="2506" y="588" width="32" height="6"/><text class="nt" x="2522" y="592.2">Python Script</text><rect class="pr" x="2506.8" y="595.4" width="10" height="5.2"/><text class="pi" x="2507.6" y="598.9">IN[0]</text><rect class="pr" x="2506.8" y="601.9" width="10" height="5.2"/><text class="pi" x="2507.6" y="605.4">IN[1]</text><rect class="pr" x="2506.8" y="608.4" width="10" height="5.2"/><text class="pi" x="2507.6" y="611.9">IN[2]</text><rect class="pr" x="2529" y="595.4" width="8.2" height="5.2"/><text class="po" x="2537.4" y="598.9">OUT</text></g>
<g id="n79"><rect class="nb" x="2506" y="631" width="32" height="32"/><rect class="nh" x="2506" y="631" width="32" height="6"/><text class="nt" x="2522" y="635.2">Python Script</text><rect class="pr" x="2506.8" y="638.4" width="10" height="5.2"/><text class="pi" x="2507.6" y="641.9">IN[0]</text><rect class="pr" x="2506.8" y="644.9" width="10" height="5.2"/><text class="pi" x="2507.6" y="648.4">IN[1]</text><rect class="pr" x="2506.8" y="651.4" width="10" height="5.2"/><text class="pi" x="2507.6" y="654.9">IN[2]</text><rect class="pr" x="2529" y="638.4" width="8.2" height="5.2"/><text class="po" x="2537.4" y="641.9">OUT</text></g>
<g id="n80"><rect class="nb" x="2506" y="679" width="32" height="32"/><rect class="nh" x="2506" y="679" width="32" height="6"/><text class="nt" x="2522" y="683.2">Python Script</text><rect class="pr" x="2506.8" y="686.4" width="10" height="5.2"/><text class="pi" x="2507.6" y="689.9">IN[0]</text><rect class="pr" x="2506.8" y="692.9" width="10" height="5.2"/><text class="pi" x="2507.6" y="696.4">IN[1]</text><rect class="pr" x="2506.8" y="699.4" width="10" height="5.2"/><text class="pi" x="2507.6" y="702.9">IN[2]</text><rect class="pr" x="2529" y="686.4" width="8.2" height="5.2"/><text class="po" x="2537.4" y="689.9">OUT</text></g>
<g id="n81"><rect class="nb" x="2573" y="437" width="56" height="26"/><rect class="nh" x="2573" y="437" width="56" height="6"/><text class="nt" x="2601" y="441.2">Geometry.DistanceTo</text><rect class="pr" x="2573.8" y="444.4" width="30" height="5.2"/><text class="pi" x="2574.6" y="447.9">geometry</text><rect class="pr" x="2573.8" y="450.9" width="30" height="5.2"/><text class="pi" x="2574.6" y="454.4">other</text><rect class="pr" x="2614" y="444.4" width="14.2" height="5.2"/><text class="po" x="2628.4" y="447.9">double</text></g>
<g id="n82"><rect class="nb" x="2646" y="419" width="32" height="19"/><rect class="nh" x="2646" y="419" width="32" height="6"/><text class="nt" x="2662" y="423.2" style="font-size:2.8px">String from Object</text><rect class="pr" x="2646.8" y="426.4" width="15" height="5.2"/><text class="pi" x="2647.6" y="429.9">obj</text><rect class="pr" x="2668" y="426.4" width="9.2" height="5.2"/><text class="po" x="2677.4" y="429.9">str</text></g>
<g id="n83"><rect class="nb" x="2687" y="419" width="31" height="19"/><rect class="nh" x="2687" y="419" width="31" height="6"/><text class="nt" x="2702.5" y="423.2">Python Script</text><rect class="pr" x="2687.8" y="426.4" width="10" height="5.2"/><text class="pi" x="2688.6" y="429.9">IN[0]</text><rect class="pr" x="2709" y="426.4" width="8.2" height="5.2"/><text class="po" x="2717.4" y="429.9">OUT</text></g>
<g id="n84"><rect class="nb" x="2817" y="409" width="127" height="44"/><rect class="nh" x="2817" y="409" width="127" height="7"/><text class="nt" x="2880.5" y="413.7">Code Block</text><rect class="pr" x="2817.8" y="416.8" width="28" height="30.5"/><rect class="cb" x="2847" y="416.8" width="92" height="30.5"/>
<text class="pi" style="font-size:2px" x="2818.6" y="419.8">str_node</text><text class="pi" style="font-size:2px" x="2818.6" y="424.1">separation</text><text class="pi" style="font-size:2px" x="2818.6" y="428.5">str_pipeNetwork</text><text class="pi" style="font-size:2px" x="2818.6" y="432.8">str_pipeName</text><text class="pi" style="font-size:2px" x="2818.6" y="437.1">str_pipeNetwork</text><text class="pi" style="font-size:2px" x="2818.6" y="441.5">str_pipeName</text><text class="pi" style="font-size:2px" x="2818.6" y="445.8">str_alignment</text>
<text class="cd" style="font-size:2px" x="2848" y="419.8">"ID: "+str_node+"\n"+</text><text class="cd" style="font-size:2px" x="2848" y="424.1">"  Separation: "+separation+"\n"+</text><text class="cd" style="font-size:2px" x="2848" y="428.5">"  Network[1]: "+str_pipeNetwork + "; " +</text><text class="cd" style="font-size:2px" x="2848" y="432.8">str_pipeName+"\n"+</text><text class="cd" style="font-size:2px" x="2848" y="437.1">"  Network[2]: "+str_pipeNetwork + "; " +</text><text class="cd" style="font-size:2px" x="2848" y="441.5">str_pipeName+"\n"+</text><text class="cd" style="font-size:2px" x="2848" y="445.8">"  Alignment: " + str_alignment;</text></g>
<g id="n85"><rect class="nb" x="2723" y="548" width="47" height="14"/><rect class="nh" x="2723" y="548" width="47" height="6"/><text class="nt" x="2746.5" y="552.2">Minimum Vertical Clearance</text><rect class="cb" x="2723.8" y="555.4" width="38" height="5.2"/><text class="pi" x="2724.6" y="558.9">2.00</text></g>
<g id="n86"><rect class="nb" x="2919" y="557" width="42" height="25"/><rect class="nh" x="2919" y="557" width="42" height="6"/><text class="nt" x="2940" y="561.2">&lt;</text><rect class="pr" x="2919.8" y="564.4" width="18" height="5.2"/><text class="pi" x="2920.6" y="567.9">x</text><rect class="pr" x="2919.8" y="570.9" width="18" height="5.2"/><text class="pi" x="2920.6" y="574.4">y</text><rect class="pr" x="2945" y="564.4" width="15.2" height="5.2"/><text class="po" x="2960.4" y="567.9">var[]..[]</text></g>
<g id="n87"><rect class="nb" x="2779" y="566" width="56" height="19"/><rect class="nh" x="2779" y="566" width="56" height="6"/><text class="nt" x="2807" y="570.2">Code Block</text><rect class="cb" x="2779.8" y="573.4" width="51" height="5.2"/><text class="cd" x="2780.4" y="576.9">"Pipe-Conflict-Clear";</text></g>
<g id="n88"><rect class="nb" x="2802" y="590" width="32" height="19"/><rect class="nh" x="2802" y="590" width="32" height="6"/><text class="nt" x="2818" y="594.2">Color Palette</text><rect x="2803" y="597.4" width="13" height="4.6" fill="#19d62a"/><rect class="pr" x="2824" y="597.4" width="9.2" height="5.2"/><text class="po" x="2833.4" y="600.9">Color</text></g>
<g id="n89"><rect class="nb" x="2841" y="586" width="51" height="25"/><rect class="nh" x="2841" y="586" width="51" height="6"/><text class="nt" x="2866.5" y="590.2" style="font-size:2.8px">Layer.Extensions.ByNameColor</text><rect class="pr" x="2841.8" y="593.4" width="26" height="5.2"/><text class="pi" x="2842.6" y="596.9">name</text><rect class="pr" x="2841.8" y="599.9" width="26" height="5.2"/><text class="pi" x="2842.6" y="603.4">color</text><rect class="pr" x="2879" y="593.4" width="12.2" height="5.2"/><text class="po" x="2891.4" y="596.9">Layer</text></g>
<g id="n90"><rect class="nb" x="2986" y="584" width="31" height="24"/><rect class="nh" x="2986" y="584" width="31" height="6"/><text class="nt" x="3001.5" y="588.2">If</text><rect class="pr" x="2986.8" y="591.4" width="14" height="5.2"/><text class="pi" x="2987.6" y="594.9">test</text><rect class="pr" x="2986.8" y="597.9" width="14" height="5.2"/><text class="pi" x="2987.6" y="601.4">true</text><rect class="pr" x="2986.8" y="604.4" width="14" height="5.2"/><text class="pi" x="2987.6" y="607.9">false</text><rect class="pr" x="3004" y="591.4" width="12.2" height="5.2"/><text class="po" x="3016.4" y="594.9">result</text></g>
<g id="n91"><rect class="nb" x="2782" y="614" width="55" height="19"/><rect class="nh" x="2782" y="614" width="55" height="6"/><text class="nt" x="2809.5" y="618.2">Code Block</text><rect class="cb" x="2782.8" y="621.4" width="50" height="5.2"/><text class="cd" x="2783.4" y="624.9">"Pipe-Conflict-Clash";</text></g>
<g id="n92"><rect class="nb" x="2804" y="637" width="32" height="19"/><rect class="nh" x="2804" y="637" width="32" height="6"/><text class="nt" x="2820" y="641.2">Color Palette</text><rect x="2805" y="644.4" width="13" height="4.6" fill="#e3161b"/><rect class="pr" x="2826" y="644.4" width="9.2" height="5.2"/><text class="po" x="2835.4" y="647.9">Color</text></g>
<g id="n93"><rect class="nb" x="2846" y="629" width="50" height="26"/><rect class="nh" x="2846" y="629" width="50" height="6"/><text class="nt" x="2871" y="633.2" style="font-size:2.8px">Layer.Extensions.ByNameColor</text><rect class="pr" x="2846.8" y="636.4" width="26" height="5.2"/><text class="pi" x="2847.6" y="639.9">name</text><rect class="pr" x="2846.8" y="642.9" width="26" height="5.2"/><text class="pi" x="2847.6" y="646.4">color</text><rect class="pr" x="2883" y="636.4" width="12.2" height="5.2"/><text class="po" x="2895.4" y="639.9">Layer</text></g>
<g id="n94"><rect class="nb" x="3139" y="590" width="44" height="52"/><rect class="nh" x="3139" y="590" width="44" height="6"/><text class="nt" x="3161" y="594.2" style="font-size:2.8px">MText.ByPointTextRotation</text><rect class="pr" x="3139.8" y="597.4" width="24" height="5.2"/><text class="pi" x="3140.6" y="600.9">location</text><rect class="pr" x="3139.8" y="603.9" width="24" height="5.2"/><text class="pi" x="3140.6" y="607.4">text</text><rect class="pr" x="3139.8" y="610.4" width="24" height="5.2"/><text class="pi" x="3140.6" y="613.9">layer</text><rect class="pr" x="3139.8" y="616.9" width="24" height="5.2"/><text class="pi" x="3140.6" y="620.4">height</text><rect class="pr" x="3139.8" y="623.4" width="24" height="5.2"/><text class="pi" x="3140.6" y="626.9">rotation</text><rect class="pr" x="3139.8" y="629.9" width="24" height="5.2"/><text class="pi" x="3140.6" y="633.4">block</text><rect class="pr" x="3170" y="597.4" width="12.2" height="5.2"/><text class="po" x="3182.4" y="600.9">MText</text></g>
<g id="n95"><rect class="nb" x="3084" y="638" width="33" height="14"/><rect class="nh" x="3084" y="638" width="33" height="6"/><text class="nt" x="3100.5" y="642.2">Marker Text Height</text><rect class="cb" x="3084.8" y="645.4" width="26" height="5.2"/><text class="pi" x="3085.6" y="648.9">0.50</text></g>
<g id="n96"><rect class="nb" x="2909" y="668" width="52" height="19"/><rect class="nh" x="2909" y="668" width="52" height="6"/><text class="nt" x="2935" y="672.2" style="font-size:2.8px">Object.Identity: CrossingPoints</text><rect class="pr" x="2909.8" y="675.4" width="24" height="5.2"/><text class="pi" x="2910.6" y="678.9">obj</text><rect class="pr" x="2943" y="675.4" width="17.2" height="5.2"/><text class="po" x="2960.4" y="678.9">var[]..[]</text></g>
<g id="n97"><rect class="nb" x="3002" y="721" width="58" height="25"/><rect class="nh" x="3002" y="721" width="58" height="6"/><text class="nt" x="3031" y="725.2">Sphere.ByCenterPointRadius</text><rect class="pr" x="3002.8" y="728.4" width="32" height="5.2"/><text class="pi" x="3003.6" y="731.9">centerPoint</text><rect class="pr" x="3002.8" y="734.9" width="32" height="5.2"/><text class="pi" x="3003.6" y="738.4">radius</text><rect class="pr" x="3046" y="728.4" width="13.2" height="5.2"/><text class="po" x="3059.4" y="731.9">Sphere</text></g>
<g id="n98"><rect class="nb" x="3098" y="720" width="54" height="32"/><rect class="nh" x="3098" y="720" width="54" height="6"/><text class="nt" x="3125" y="724.2">Object.ByGeometry</text><rect class="pr" x="3098.8" y="727.4" width="30" height="5.2"/><text class="pi" x="3099.6" y="730.9">geometry</text><rect class="pr" x="3098.8" y="733.9" width="30" height="5.2"/><text class="pi" x="3099.6" y="737.4">layer</text><rect class="pr" x="3098.8" y="740.4" width="30" height="5.2"/><text class="pi" x="3099.6" y="743.9">block</text><rect class="pr" x="3138" y="727.4" width="13.2" height="5.2"/><text class="po" x="3151.4" y="730.9">Object</text></g>
<g id="n99"><rect class="nb" x="2987" y="751" width="31" height="19"/><rect class="nh" x="2987" y="751" width="31" height="6"/><text class="nt" x="3002.5" y="755.2">Document.Current</text><rect class="pr" x="2997" y="758.4" width="20.2" height="5.2"/><text class="po" x="3017.4" y="761.9">Document</text></g>
<g id="n100"><rect class="nb" x="3024" y="751" width="55" height="19"/><rect class="nh" x="3024" y="751" width="55" height="6"/><text class="nt" x="3051.5" y="755.2">Document.ModelSpace</text><rect class="pr" x="3024.8" y="758.4" width="30" height="5.2"/><text class="pi" x="3025.6" y="761.9">document</text><rect class="pr" x="3066" y="758.4" width="12.2" height="5.2"/><text class="po" x="3078.4" y="761.9">block</text></g>
<g id="n101"><rect class="nb" x="2936" y="754" width="26" height="14"/><rect class="nh" x="2936" y="754" width="26" height="6"/><text class="nt" x="2949" y="758.2">Marker Radius</text><rect class="cb" x="2936.8" y="761.4" width="20" height="5.2"/><text class="pi" x="2937.6" y="764.9">0.50</text></g>
<g id="n102"><rect class="nb" x="2384" y="803" width="51" height="19"/><rect class="nh" x="2384" y="803" width="51" height="6"/><text class="nt" x="2409.5" y="807.2" style="font-size:2.8px">Object.Identity: CrossingPoints</text><rect class="pr" x="2384.8" y="810.4" width="24" height="5.2"/><text class="pi" x="2385.6" y="813.9">obj</text><rect class="pr" x="2417" y="810.4" width="17.2" height="5.2"/><text class="po" x="2434.4" y="813.9">var[]..[]</text></g>
<g id="n103"><rect class="nb" x="2549" y="853" width="51" height="19"/><rect class="nh" x="2549" y="853" width="51" height="6"/><text class="nt" x="2574.5" y="857.2" style="font-size:2.8px">Object.Identity: CrossingPoints</text><rect class="pr" x="2549.8" y="860.4" width="24" height="5.2"/><text class="pi" x="2550.6" y="863.9">obj</text><rect class="pr" x="2582" y="860.4" width="17.2" height="5.2"/><text class="po" x="2599.4" y="863.9">var[]..[]</text></g>
<g id="n104"><rect class="nb" x="1933" y="803" width="51" height="19"/><rect class="nh" x="1933" y="803" width="51" height="6"/><text class="nt" x="1958.5" y="807.2" style="font-size:2.8px">Object.Identity: CrossingPoints</text><rect class="pr" x="1933.8" y="810.4" width="24" height="5.2"/><text class="pi" x="1934.6" y="813.9">obj</text><rect class="pr" x="1966" y="810.4" width="17.2" height="5.2"/><text class="po" x="1983.4" y="813.9">var[]..[]</text></g>
<g id="n105"><rect class="nb" x="1722" y="881" width="45" height="18"/><rect class="nh" x="1722" y="881" width="45" height="6"/><text class="nt" x="1744.5" y="885.2" style="font-size:2.8px">Object.Identity: Alignments</text><rect class="pr" x="1722.8" y="888.4" width="22" height="5.2"/><text class="pi" x="1723.6" y="891.9">obj</text><rect class="pr" x="1749" y="888.4" width="17.2" height="5.2"/><text class="po" x="1766.4" y="891.9">var[]..[]</text></g>
<g id="n106"><rect class="nb" x="1877" y="902" width="57" height="25"/><rect class="nh" x="1877" y="902" width="57" height="6"/><text class="nt" x="1905.5" y="906.2" style="font-size:2.8px">AlignmentExtensions.GetGeometry</text><rect class="pr" x="1877.8" y="909.4" width="30" height="5.2"/><text class="pi" x="1878.6" y="912.9">alignment</text><rect class="pr" x="1877.8" y="915.9" width="30" height="5.2"/><text class="pi" x="1878.6" y="919.4">layer</text><rect class="pr" x="1918" y="909.4" width="15.2" height="5.2"/><text class="po" x="1933.4" y="912.9">Curve[]</text></g>
<g id="n107"><rect class="nb" x="1944" y="909" width="66" height="25"/><rect class="nh" x="1944" y="909" width="66" height="6"/><text class="nt" x="1977" y="913.2">PolyCurve.ByJoinedCurves</text><rect class="pr" x="1944.8" y="916.4" width="36" height="5.2"/><text class="pi" x="1945.6" y="919.9">curves</text><rect class="pr" x="1944.8" y="922.9" width="36" height="5.2"/><text class="pi" x="1945.6" y="926.4">joinTolerance</text><rect class="pr" x="1991" y="916.4" width="18.2" height="5.2"/><text class="po" x="2009.4" y="919.9">PolyCurve</text></g>
<g id="n108"><rect class="nb" x="2021" y="892" width="62" height="25"/><rect class="nh" x="2021" y="892" width="62" height="6"/><text class="nt" x="2052" y="896.2">Geometry.IntersectAll</text><rect class="pr" x="2021.8" y="899.4" width="32" height="5.2"/><text class="pi" x="2022.6" y="902.9">geometry</text><rect class="pr" x="2021.8" y="905.9" width="32" height="5.2"/><text class="pi" x="2022.6" y="909.4">others</text><rect class="pr" x="2061" y="899.4" width="21.2" height="5.2"/><text class="po" x="2082.4" y="902.9">Geometry[]</text></g>
<g id="n109"><rect class="nb" x="2129" y="857" width="31" height="25"/><rect class="nh" x="2129" y="857" width="31" height="6"/><text class="nt" x="2144.5" y="861.2">Python Script</text><rect class="pr" x="2129.8" y="864.4" width="10" height="5.2"/><text class="pi" x="2130.6" y="867.9">IN[0]</text><rect class="pr" x="2129.8" y="870.9" width="10" height="5.2"/><text class="pi" x="2130.6" y="874.4">IN[1]</text><rect class="pr" x="2151" y="864.4" width="8.2" height="5.2"/><text class="po" x="2159.4" y="867.9">OUT</text></g>
<g id="n110"><rect class="nb" x="2122" y="892" width="46" height="25"/><rect class="nh" x="2122" y="892" width="46" height="6"/><text class="nt" x="2145" y="896.2">List.Flatten</text><rect class="pr" x="2122.8" y="899.4" width="24" height="5.2"/><text class="pi" x="2123.6" y="902.9">list</text><rect class="pr" x="2122.8" y="905.9" width="24" height="5.2"/><text class="pi" x="2123.6" y="909.4">amt</text><rect class="pr" x="2149" y="899.4" width="18.2" height="5.2"/><text class="po" x="2167.4" y="902.9">var[]..[]</text></g>
<g id="n111"><rect class="nb" x="1782" y="949" width="47" height="19"/><rect class="nh" x="1782" y="949" width="47" height="6"/><text class="nt" x="1805.5" y="953.2">Object.Layer</text><rect class="pr" x="1782.8" y="956.4" width="25" height="5.2"/><text class="pi" x="1783.6" y="959.9">object</text><rect class="pr" x="1816" y="956.4" width="12.2" height="5.2"/><text class="po" x="1828.4" y="959.9">string</text></g>
<g id="n112"><rect class="nb" x="1873" y="942" width="45" height="19"/><rect class="nh" x="1873" y="942" width="45" height="6"/><text class="nt" x="1895.5" y="946.2" style="font-size:2.8px">Object.Identity: alignments</text><rect class="pr" x="1873.8" y="949.4" width="22" height="5.2"/><text class="pi" x="1874.6" y="952.9">obj</text><rect class="pr" x="1900" y="949.4" width="17.2" height="5.2"/><text class="po" x="1917.4" y="952.9">var[]..[]</text></g>
<g id="n113"><rect class="nb" x="2111" y="934" width="30" height="26"/><rect class="nh" x="2111" y="934" width="30" height="6"/><text class="nt" x="2126" y="938.2">Python Script</text><rect class="pr" x="2111.8" y="941.4" width="10" height="5.2"/><text class="pi" x="2112.6" y="944.9">IN[0]</text><rect class="pr" x="2111.8" y="947.9" width="10" height="5.2"/><text class="pi" x="2112.6" y="951.4">IN[1]</text><rect class="pr" x="2132" y="941.4" width="8.2" height="5.2"/><text class="po" x="2140.4" y="944.9">OUT</text></g>
<g id="n114"><rect class="nb" x="2246" y="917" width="53" height="18"/><rect class="nh" x="2246" y="917" width="53" height="6"/><text class="nt" x="2272.5" y="921.2">CivilObject.Name</text><rect class="pr" x="2246.8" y="924.4" width="30" height="5.2"/><text class="pi" x="2247.6" y="927.9">civilObject</text><rect class="pr" x="2286" y="924.4" width="12.2" height="5.2"/><text class="po" x="2298.4" y="927.9">string</text></g>
<g id="n115"><rect class="nb" x="2178" y="944" width="55" height="26"/><rect class="nh" x="2178" y="944" width="55" height="6"/><text class="nt" x="2205.5" y="948.2" style="font-size:2.8px">Alignment.StationOffsetByPoint</text><rect class="pr" x="2178.8" y="951.4" width="30" height="5.2"/><text class="pi" x="2179.6" y="954.9">alignment</text><rect class="pr" x="2178.8" y="957.9" width="30" height="5.2"/><text class="pi" x="2179.6" y="961.4">point</text><rect class="pr" x="2219" y="951.4" width="13.2" height="5.2"/><text class="po" x="2232.4" y="954.9">Station</text><rect class="pr" x="2219" y="957.9" width="13.2" height="5.2"/><text class="po" x="2232.4" y="961.4">Offset</text></g>
<g id="n116"><rect class="nb" x="2250" y="956" width="64" height="25"/><rect class="nh" x="2250" y="956" width="64" height="6"/><text class="nt" x="2282" y="960.2" style="font-size:2.7px">AlignmentExtensions.StationFormatting</text><rect class="pr" x="2250.8" y="963.4" width="30" height="5.2"/><text class="pi" x="2251.6" y="966.9">station</text><rect class="pr" x="2250.8" y="969.9" width="30" height="5.2"/><text class="pi" x="2251.6" y="973.4">prefix</text><rect class="pr" x="2301" y="963.4" width="12.2" height="5.2"/><text class="po" x="2313.4" y="966.9">string</text></g>
<g id="n117"><rect class="nb" x="2330" y="925" width="30" height="26"/><rect class="nh" x="2330" y="925" width="30" height="6"/><text class="nt" x="2345" y="929.2">Python Script</text><rect class="pr" x="2330.8" y="932.4" width="10" height="5.2"/><text class="pi" x="2331.6" y="935.9">IN[0]</text><rect class="pr" x="2330.8" y="938.9" width="10" height="5.2"/><text class="pi" x="2331.6" y="942.4">IN[1]</text><rect class="pr" x="2351" y="932.4" width="8.2" height="5.2"/><text class="po" x="2359.4" y="935.9">OUT</text></g>
<g id="n118"><rect class="nb" x="2369" y="859" width="31" height="31"/><rect class="nh" x="2369" y="859" width="31" height="6"/><text class="nt" x="2384.5" y="863.2">Python Script</text><rect class="pr" x="2369.8" y="866.4" width="10" height="5.2"/><text class="pi" x="2370.6" y="869.9">IN[0]</text><rect class="pr" x="2369.8" y="872.9" width="10" height="5.2"/><text class="pi" x="2370.6" y="876.4">IN[1]</text><rect class="pr" x="2369.8" y="879.4" width="10" height="5.2"/><text class="pi" x="2370.6" y="882.9">IN[2]</text><rect class="pr" x="2391" y="866.4" width="8.2" height="5.2"/><text class="po" x="2399.4" y="869.9">OUT</text></g>
<g id="n119"><rect class="nb" x="2298" y="272" width="20" height="20"/><rect class="nh" x="2298" y="272" width="20" height="6"/><text class="nt" x="2308" y="276.2" style="font-size:2.8px">Code Block</text><rect class="cb" x="2298.8" y="279.4" width="15" height="5.2"/><text class="cd" x="2299.4" y="282.9">1;</text></g>
<g id="n120"><rect class="nb" x="2276" y="295" width="42" height="18"/><rect class="nh" x="2276" y="295" width="42" height="6"/><text class="nt" x="2297" y="299.2">List.Count</text><rect class="pr" x="2276.8" y="302.4" width="20" height="5.2"/><text class="pi" x="2277.6" y="305.9">list</text><rect class="pr" x="2305" y="302.4" width="12.2" height="5.2"/><text class="po" x="2317.4" y="305.9">count</text></g>
<g id="n121"><rect class="nb" x="2330" y="279" width="46" height="33"/><rect class="nh" x="2330" y="279" width="46" height="6"/><text class="nt" x="2353" y="283.2">Sequence</text><rect class="pr" x="2330.8" y="286.4" width="24" height="5.2"/><text class="pi" x="2331.6" y="289.9">start</text><rect class="pr" x="2330.8" y="292.9" width="24" height="5.2"/><text class="pi" x="2331.6" y="296.4">amount</text><rect class="pr" x="2330.8" y="299.4" width="24" height="5.2"/><text class="pi" x="2331.6" y="302.9">step</text><rect class="pr" x="2365" y="286.4" width="10.2" height="5.2"/><text class="po" x="2375.4" y="289.9">seq</text></g>
<g id="n122"><rect class="nb" x="2386" y="280" width="84" height="22"/><rect class="nh" x="2386" y="280" width="84" height="6"/><text class="nt" x="2428" y="284.2">Code Block</text><rect class="pr" x="2386.8" y="287.4" width="10" height="5.2"/><text class="pi" x="2387.4" y="290.9">seq</text><rect class="pr" x="2386.8" y="293.9" width="10" height="5.2"/><text class="pi" x="2387.4" y="297.4">pfx</text><rect class="cb" x="2397.5" y="287.4" width="69" height="5.2"/><text class="cd" x="2398" y="290.9">pfx+"-"+seq;</text></g>
<g id="n123"><rect class="nb" x="2344" y="333" width="38" height="13"/><rect class="nh" x="2344" y="333" width="38" height="6"/><text class="nt" x="2363" y="337.2">Crossing Name Prefix</text><rect class="cb" x="2344.8" y="340.4" width="32" height="5.2"/><text class="pi" x="2345.6" y="343.9">Crossing</text></g>
</svg>
